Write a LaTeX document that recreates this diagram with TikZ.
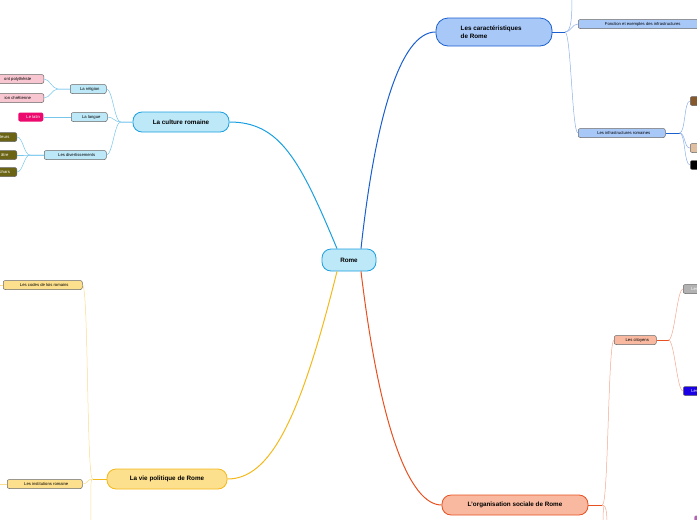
\documentclass[tikz,border=0pt]{standalone}
\usepackage{fontspec}
\setmainfont{Liberation Sans}
\usetikzlibrary{calc}
\begin{document}
\begin{tikzpicture}[x=1pt,y=-1pt,
 base/.style={rounded corners=2pt,draw=gray!80!black,line width=0.5pt,font=\fontsize{4.2}{5}\selectfont,inner sep=0pt,minimum height=9pt,anchor=west,text height=3.2pt,text depth=0.8pt},
 main/.style={rounded corners=9pt,line width=0.8pt,font=\fontsize{6.3}{7.5}\bfseries\selectfont,inner sep=0pt,minimum height=20pt},
 ln/.style={line width=0.5pt},
 fanL/.style={to path={.. controls ($(\tikztostart)+(-6,0)$) and ($(\tikztotarget)+(6,0)$) .. (\tikztotarget)}},
 fanR/.style={to path={.. controls ($(\tikztostart)+(6,0)$) and ($(\tikztotarget)+(-6,0)$) .. (\tikztotarget)}},
]
\useasboundingbox (0,0) rectangle (697,520);
\clip (0,0) rectangle (697,520);
\definecolor{cblue}{HTML}{BDE8F8}\definecolor{cblueB}{HTML}{1AA0E0}
\definecolor{rblue}{HTML}{A8C8F8}\definecolor{rblueB}{HTML}{1A5FD0}
\definecolor{yel}{HTML}{FDE08D}\definecolor{yelB}{HTML}{F3B81A}
\definecolor{org}{HTML}{F8B9A0}\definecolor{orgB}{HTML}{E85020}
\definecolor{pink}{HTML}{F7C6D0}\definecolor{olive}{HTML}{6B6414}
% main
\node[main,fill=cblue,draw=cblueB,minimum width=54pt,minimum height=22pt] (rome) at (349,260) {Rome};
\node[main,fill=rblue,draw=rblueB,minimum width=116pt,minimum height=28pt,align=left,rounded corners=12pt] (car) at (494,32) {Les caractéristiques\\de Rome\hspace*{40pt}};
\node[main,fill=cblue,draw=cblueB,minimum width=96pt] (cul) at (181,122) {La culture romaine};
\node[main,fill=yel,draw=yelB,minimum width=120pt] (vie) at (167,479) {La vie politique de Rome};
\node[main,fill=org,draw=orgB,minimum width=146pt] (soc) at (515,505) {L'organisation sociale de Rome};
\draw[ln,line width=1pt,rblueB] (rome.north)++(12,0) .. controls (375,120) and (400,32) .. (car.west);
\draw[ln,line width=1pt,cblueB] (rome.north)++(-12,0) .. controls (300,160) and (280,122) .. (cul.east);
\draw[ln,line width=1pt,yelB] (rome.south)++(-12,0) .. controls (300,420) and (270,479) .. (vie.east);
\draw[ln,line width=1pt,orgB] (rome.south)++(12,0) .. controls (380,430) and (410,505) .. (soc.west);
% culture
\node[base,fill=cblue,minimum width=36pt] (rel) at (70,89) {\hspace*{3pt}La religion};
\node[base,fill=cblue,minimum width=36pt] (lan) at (71,117) {\hspace*{4pt}La langue};
\node[base,fill=cblue,minimum width=62pt] (div) at (44,155) {\hspace*{3pt}Les divertissements};
\foreach \n in {rel,lan,div} \draw[ln,cblueB!60] (cul.west) -- ++(-12,0) to[fanL] (\n.east);
\node[base,fill=pink,minimum width=49pt,anchor=east] (r1) at (44,79) {ont polythéiste\hspace*{3pt}};
\node[base,fill=pink,minimum width=49pt,anchor=east] (r2) at (44,98) {ion chrétienne\hspace*{3pt}};
\foreach \n in {r1,r2} \draw[ln,cblueB!60] (rel.west) -- ++(-12,0) to[fanL] (\n.east);
\node[base,fill=magenta!70!red,draw=none,text=white,minimum width=25pt] (lat) at (18,117) {\hspace*{5pt}Le latin};
\draw[ln,cblueB!60] (lan.west) -- (lat.east);
\node[base,fill=olive,text=white,minimum width=22pt,anchor=east] (d1) at (17,137) {teurs\hspace*{2pt}};
\node[base,fill=olive,text=white,minimum width=22pt,anchor=east] (d2) at (17,155) {âtre\hspace*{2pt}};
\node[base,fill=olive,text=white,minimum width=22pt,anchor=east] (d3) at (17,172) {chars\hspace*{2pt}};
\foreach \n in {d1,d2,d3} \draw[ln,cblueB!60] (div.west) -- ++(-14,0) to[fanL] (\n.east);
% caracteristiques
\coordinate (cf) at (565,32);
\draw[ln,rblueB] (car.east) -- (cf);
\draw[ln,rblueB!50] (cf) .. controls (571,32) and (572,20) .. (572,-5);
\node[base,fill=rblue,minimum width=125pt] (fon) at (578,24) {\hspace*{4pt}Fonction et exemples des infrastructures};
\node[base,fill=rblue,minimum width=87pt] (inf) at (578,133) {\hspace*{4pt}Les infrastructures romaines};
\draw[ln,rblueB!50] (cf) to[fanR] (fon.west);
\draw[ln,rblueB!50] (cf) to[fanR] (inf.west);
\node[base,fill=brown!70!black,text=white,minimum width=15pt] (i1) at (690,101) {\hspace*{3pt}U};
\node[base,fill=brown!50!white,text=white,minimum width=15pt] (i2) at (690,148) {\hspace*{3pt}D};
\node[base,fill=black,text=white,minimum width=15pt] (i3) at (690,165) {\hspace*{3pt}L};
\draw[ln,rblueB] (inf.east) -- ++(14,0) coordinate (if);
\foreach \n in {i1,i2,i3} \draw[ln,rblueB!50] (if) to[fanR] (\n.west);
% vie politique
\node[base,fill=yel,minimum width=79pt] (cod) at (3,285) {\hspace*{3pt}Les codes de lois romains};
\node[base,fill=yel,minimum width=75pt] (ins) at (7,484) {\hspace*{3pt}Les institutions romaine};
\draw[ln,yelB] (vie.west) -- ++(-14,0) coordinate (vf);
\draw[ln,yelB!50] (vf) to[fanL] (cod.east);
\draw[ln,yelB!50] (vf) to[fanL] (ins.east);
\draw[ln,yelB!50] (vf) .. controls (90,479) and (91,490) .. (91,525);
\draw[ln,yelB!50] (ins.west) -- (0,484);
\draw[ln,yelB!50] (cod.west) -- (0,285);
% organisation
\node[base,fill=org,minimum width=42pt] (cit) at (614,340) {\hspace*{4pt}Les citoyens};
\draw[ln,orgB] (soc.east) -- ++(14,0) coordinate (sf);
\draw[ln,orgB!50] (sf) to[fanR] (cit.west);
\draw[ln,orgB!50] (sf) .. controls (604,505) and (603,512) .. (603,525);
\draw[ln,orgB!50] (sf) .. controls (606,505) and (607,512) .. (607,525);
\node[base,fill=gray!60,text=white,minimum width=20pt] (c1) at (683,289) {\hspace*{3pt}Les};
\node[base,fill=blue!80!violet,text=white,minimum width=20pt] (c2) at (683,391) {\hspace*{3pt}Les};
\draw[ln,orgB] (cit.east) -- ++(12,0) coordinate (cf2);
\foreach \n in {c1,c2} \draw[ln,orgB!50] (cf2) to[fanR] (\n.west);
\node[base,fill=violet!60,draw=none,minimum width=6pt] (pp) at (694,520) {};
\end{tikzpicture}
\end{document}
